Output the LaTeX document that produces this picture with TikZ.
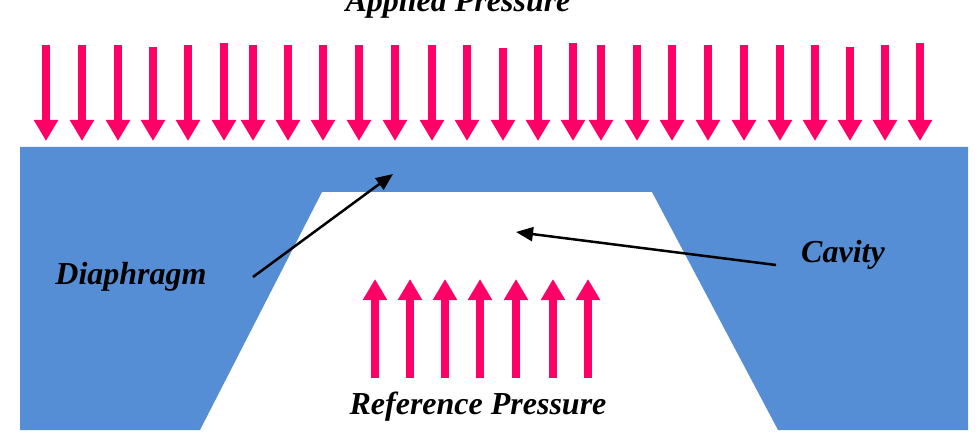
\documentclass[tikz,border=0pt]{standalone}
\usepackage{fontspec}
\setmainfont{Liberation Serif}
\usetikzlibrary{arrows.meta}
\definecolor{body}{HTML}{558ED5}
\definecolor{press}{HTML}{FF0066}
\begin{document}
\begin{tikzpicture}[x=1pt,y=-1pt,
  parr/.style={press,line width=8pt,-{Triangle[width=23pt,length=21pt]}},
  lbl/.style={font=\fontsize{32}{36}\selectfont\bfseries\itshape,inner sep=0pt},
  pt/.style={black,line width=2.5pt,-{Triangle[width=14pt,length=17pt]}}]
\useasboundingbox (0,0) rectangle (976,446);
\fill[body] (20,147) -- (968,147) -- (968,430) -- (778,430) -- (652,192) -- (322,192) -- (200,430) -- (20,430) -- cycle;
\foreach \x/\t in {46/45,82/45,118/45,153/47,188/45,224/43,253/45,288/45,323/45,359/45,395/45,432/45,467/45,503/48,538/45,573/43,601/45,637/45,672/45,708/45,744/45,780/45,815/45,850/47,885/45,920/43}
  \draw[parr] (\x,\t) -- (\x,141);
\foreach \x in {375,410,445,480,516,553,588}
  \draw[parr] (\x,378) -- (\x,279);
\node[lbl] (ap) at (458,4) {Applied Pressure};
\node[lbl] (rp) at (478,407) {Reference Pressure};
\node[lbl] (dia) at (131,277) {Diaphragm};
\node[lbl] (cav) at (843,255) {Cavity};
\coordinate (dt) at (393,174);
\coordinate (ds) at (253,277);
\coordinate (ct) at (516,232);
\coordinate (cs) at (776,265);
\draw[pt] (ds) -- (dt);
\draw[pt] (cs) -- (ct);
\end{tikzpicture}
\end{document}
